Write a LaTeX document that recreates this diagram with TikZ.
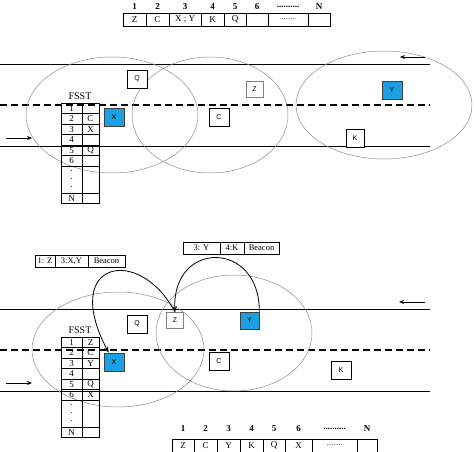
\documentclass[tikz,border=0pt]{standalone}
\usepackage{fontspec}
\setmainfont{Liberation Serif}
\setsansfont{Liberation Sans}
\usetikzlibrary{arrows.meta}
\definecolor{boxblue}{RGB}{28,160,225}
\newcommand\fssttable[3]{%
  \node[font=\fontsize{10}{10}\selectfont, inner sep=0pt] (#1lab) at (80,#2-7) {FSST};
  \foreach \i/\r in {#3} {
    \node[cl] (#1l\i) at (71.5,{#2+10.5*(\i-0.5)}) {\i};
    \node[cr] (#1r\i) at (90.5,{#2+10.5*(\i-0.5)}) {\r};
  }
  \node[cl, minimum height=27pt, align=center, font=\fontsize{9}{8}\selectfont] (#1ld) at (71.5,#2+76.5) {.\\.\\.};
  \node[cr, minimum height=27pt] (#1rd) at (90.5,#2+76.5) {};
  \node[cl] (#1lN) at (71.5,#2+95.25) {N};
  \node[cr] (#1rN) at (90.5,#2+95.25) {};
}
\begin{document}
\begin{tikzpicture}[x=1pt,y=-1pt,
  roadline/.style={line width=0.8pt},
  midline/.style={line width=1.5pt, dash pattern=on 7pt off 4pt},
  rangeell/.style={black!45, line width=0.5pt},
  car/.style={draw, fill=white, line width=0.6pt, minimum width=20pt, minimum height=18pt, inner sep=0pt, font=\sffamily\fontsize{7}{8}\selectfont},
  carB/.style={car, fill=boxblue, draw=black!75},
  carZ/.style={car, draw=black!50, minimum width=17pt, minimum height=16pt},
  cl/.style={draw, line width=0.6pt, minimum width=21pt, minimum height=10.5pt, inner sep=0pt, font=\fontsize{9}{9}\selectfont},
  cr/.style={cl, minimum width=17pt},
  arr/.style={draw, line width=0.6pt, minimum height=13pt, inner sep=0pt, font=\fontsize{9}{9}\selectfont},
  numlab/.style={font=\bfseries\fontsize{9}{9}\selectfont, inner sep=0pt},
  bcn/.style={draw, line width=0.6pt, minimum height=12pt, inner sep=0pt, font=\fontsize{8.5}{8.5}\selectfont},
  dirarrow/.style={-{Stealth[length=5pt,width=4pt]}, line width=0.8pt},
  link/.style={-{Stealth[length=6pt,width=4.5pt]}, line width=0.8pt},
]
\useasboundingbox (0,0) rectangle (474,452);

% ---------- top array ----------
\foreach \n/\x/\w/\t/\l in {a1/134.5/23/Z/1, a2/157.5/23/C/2, a3/185/32/{X ; Y}/3, a4/212.5/23/K/4, a5/235/22/Q/5, a6/257/22/{}/6, a7/288/40/{\fontsize{7}{7}\selectfont.........}/{..........}, a8/319/22/{}/N} {
  \node[arr, minimum width=\w pt] (\n) at (\x,19.5) {\t};
  \node[numlab] (\n lab) at (\x,6.5) {\l};
}

% ---------- top scene ----------
\coordinate (r1a) at (0,64);   \coordinate (r1b) at (430,64);
\coordinate (r2a) at (0,105);  \coordinate (r2b) at (430,105);
\coordinate (r3a) at (0,146);  \coordinate (r3b) at (430,146);
\draw[roadline] (r1a) -- (r1b);
\draw[midline] (r2a) -- (r2b);
\draw[roadline] (r3a) -- (r3b);
\draw[rangeell] (112,115) ellipse [x radius=86pt, y radius=58pt];
\draw[rangeell] (210,115) ellipse [x radius=78pt, y radius=58pt];
\draw[rangeell] (384,105) ellipse [x radius=88pt, y radius=54pt];
\coordinate (d1s) at (425,57); \coordinate (d1e) at (400,57);
\coordinate (d2s) at (6,138);  \coordinate (d2e) at (32,138);
\draw[dirarrow] (d1s) -- (d1e);
\draw[dirarrow] (d2s) -- (d2e);
\node[car] (Q1) at (137,79) {Q};
\node[carB] (X1) at (114,117) {X};
\node[car] (C1) at (219,117) {C};
\node[carZ] (Z1) at (254.5,89) {Z};
\node[carB] (Y1) at (392,90) {Y};
\node[car, minimum width=18pt] (K1) at (355,138) {K};
\fssttable{t}{103}{1/{},2/C,3/X,4/{},5/Q,6/{}}

% ---------- beacons ----------
\node[bcn, minimum width=20pt] (b11) at (45,261) {1: Z};
\node[bcn, minimum width=33pt] (b12) at (71.5,261) {3:X,Y};
\node[bcn, minimum width=37pt] (b13) at (106.5,261) {Beacon};
\node[bcn, minimum width=37pt] (b21) at (201.5,248) {3: Y};
\node[bcn, minimum width=24pt] (b22) at (232,248) {4:K};
\node[bcn, minimum width=35pt] (b23) at (261.5,248) {Beacon};

% ---------- bottom scene ----------
\coordinate (s1a) at (0,309);  \coordinate (s1b) at (430,309);
\coordinate (s2a) at (0,350);  \coordinate (s2b) at (430,350);
\coordinate (s3a) at (0,391);  \coordinate (s3b) at (430,391);
\draw[roadline] (s1a) -- (s1b);
\draw[midline] (s2a) -- (s2b);
\draw[roadline] (s3a) -- (s3b);
\draw[rangeell] (118,349.5) ellipse [x radius=86pt, y radius=57.5pt];
\draw[rangeell] (234,333) ellipse [x radius=78pt, y radius=58pt];
\coordinate (e1s) at (425,302); \coordinate (e1e) at (399,302);
\coordinate (e2s) at (6,383);   \coordinate (e2e) at (32,383);
\draw[dirarrow] (e1s) -- (e1e);
\draw[dirarrow] (e2s) -- (e2e);
\node[car] (Q2) at (137,324) {Q};
\node[carZ] (Z2) at (175,320.5) {Z};
\node[carB, minimum width=19pt, minimum height=17pt] (Y2) at (249.5,320.5) {Y};
\node[carB] (X2) at (114,362) {X};
\node[car] (C2) at (219,361.5) {C};
\node[car] (K2) at (341,370.5) {K};
\fssttable{u}{337}{1/Z,2/C,3/Y,4/{},5/Q,6/X}

\draw[link] (Y2.north east) .. controls (260,240) and (172,240) .. (Z2.north);
\draw[link] (Z2.north) .. controls (140,245) and (60,260) .. ([xshift=5pt]X2.north west);

% ---------- bottom array ----------
\foreach \n/\x/\w/\t/\l in {c1/183/22/Z/1, c2/205.5/23/C/2, c3/228.5/23/Y/3, c4/251.5/23/K/4, c5/274/22/Q/5, c6/298.5/27/X/6, c7/334.5/45/{\fontsize{7}{7}\selectfont.........}/{..........}, c8/367/20/{}/N} {
  \node[arr, minimum width=\w pt] (\n) at (\x,445.5) {\t};
  \node[numlab] (\n lab) at (\x,429) {\l};
}
\end{tikzpicture}
\end{document}
